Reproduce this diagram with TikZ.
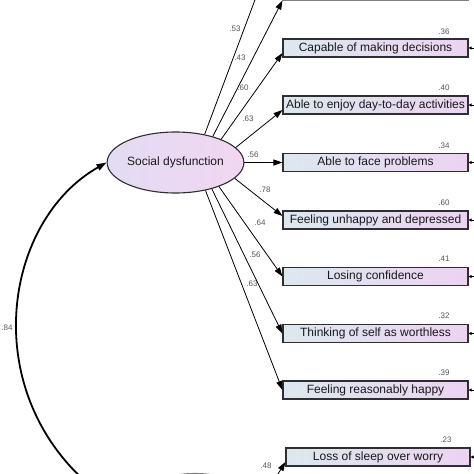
\documentclass[tikz,border=0pt]{standalone}
\usepackage{fontspec}
\setmainfont{Liberation Sans}
\usetikzlibrary{arrows.meta, shapes.geometric, positioning}
\definecolor{boxleft}{HTML}{DCE8EE}
\definecolor{boxright}{HTML}{ECD3F2}
\definecolor{latleft}{HTML}{E2DCF3}
\definecolor{latright}{HTML}{F2D6F2}
\definecolor{edgegray}{HTML}{2E2E33}
\definecolor{numgray}{HTML}{555555}
\begin{document}
\begin{tikzpicture}[x=1pt, y=-1pt, font=\fontsize{12}{14}\selectfont, text=black!90,
  obs/.style={draw=edgegray, line width=1.1pt, left color=boxleft, right color=boxright, minimum width=185pt, minimum height=18pt, inner sep=0pt},
  lat/.style={ellipse, draw=edgegray, line width=1.1pt, left color=latleft, right color=latright, minimum width=121pt, minimum height=61pt, inner sep=0pt},
  loading/.style={draw=black, line width=0.8pt, -{Triangle[length=9pt, width=6pt]}},
  stub/.style={draw=black, line width=0.8pt, {Triangle[length=3pt, width=3pt]}-},
  cov/.style={draw=black, line width=1.8pt, -{Triangle[length=10pt, width=6.5pt]}},
  coef/.style={font=\fontsize{8}{9}\selectfont, text=numgray, inner sep=0pt}]
  \clip (0,0) rectangle (474,474);
  % observed items
  \node[obs, draw=gray] (top) at (375.5,-9) {};
  \node[obs] (decide) at (375.5,48) {Capable of making decisions};
  \node[obs] (enjoy) at (375.5,105) {Able to enjoy day-to-day activities};
  \node[obs] (face) at (375.5,162.5) {Able to face problems};
  \node[obs] (unhappy) at (375.5,220) {Feeling unhappy and depressed};
  \node[obs] (confid) at (375.5,276.5) {Losing confidence};
  \node[obs] (worth) at (375.5,333.5) {Thinking of self as worthless};
  \node[obs] (happy) at (375.5,390) {Feeling reasonably happy};
  \node[obs, minimum width=184pt] (sleep) at (378,457) {Loss of sleep over worry};
  % latent factors
  \node[lat] (social) at (175.5,162.5) {Social dysfunction};
  \node[lat, draw=gray] (other) at (195,504) {};
  \coordinate (upper) at (283,-75);
  \coordinate (below) at (268,490);
  \coordinate (covend) at (86,482);
  % loadings
  \draw[loading] (social.44) -- (upper);
  \draw[loading] (social.35) -- (top.south west);
  \draw[loading] (social.27) -- ([yshift=-5pt]decide.west);
  \draw[loading] (social.14) -- ([yshift=-5pt]enjoy.west);
  \draw[loading] (social.east) -- (face.west);
  \draw[loading] (social.-15) -- ([yshift=4pt]unhappy.west);
  \draw[loading] (social.-29) -- (confid.west);
  \draw[loading] (social.-36) -- (worth.west);
  \draw[loading] (social.-43) -- (happy.west);
  \draw[loading] (below) -- ([yshift=-5pt]sleep.west);
  \draw[cov] (covend) .. controls (-22,385) and (5,220) .. (social.west);
  % error terms
  \foreach \b in {top,decide,enjoy,face,unhappy,confid,worth,happy,sleep}
    \draw[stub] (\b.east) -- ++(20,0);
  \node[coef] (c1) at (235,29) {.53};
  \node[coef] (c2) at (240,58) {.43};
  \node[coef] (c3) at (243,88) {.60};
  \node[coef] (c4) at (248,119) {.63};
  \node[coef] (c5) at (253,155) {.56};
  \node[coef] (c6) at (265,190) {.78};
  \node[coef] (c7) at (260,223) {.64};
  \node[coef] (c8) at (255,255) {.56};
  \node[coef] (c9) at (252,284) {.63};
  \node[coef] (c10) at (266,466) {.48};
  \node[coef] (r) at (7,328) {.84};
  \node[coef] (e2) at (444,32) {.36};
  \node[coef] (e3) at (444,88) {.40};
  \node[coef] (e4) at (444,146) {.34};
  \node[coef] (e5) at (444,203) {.60};
  \node[coef] (e6) at (444,259) {.41};
  \node[coef] (e7) at (444,316) {.32};
  \node[coef] (e8) at (444,373) {.39};
  \node[coef] (e9) at (446,440) {.23};
\end{tikzpicture}
\end{document}
